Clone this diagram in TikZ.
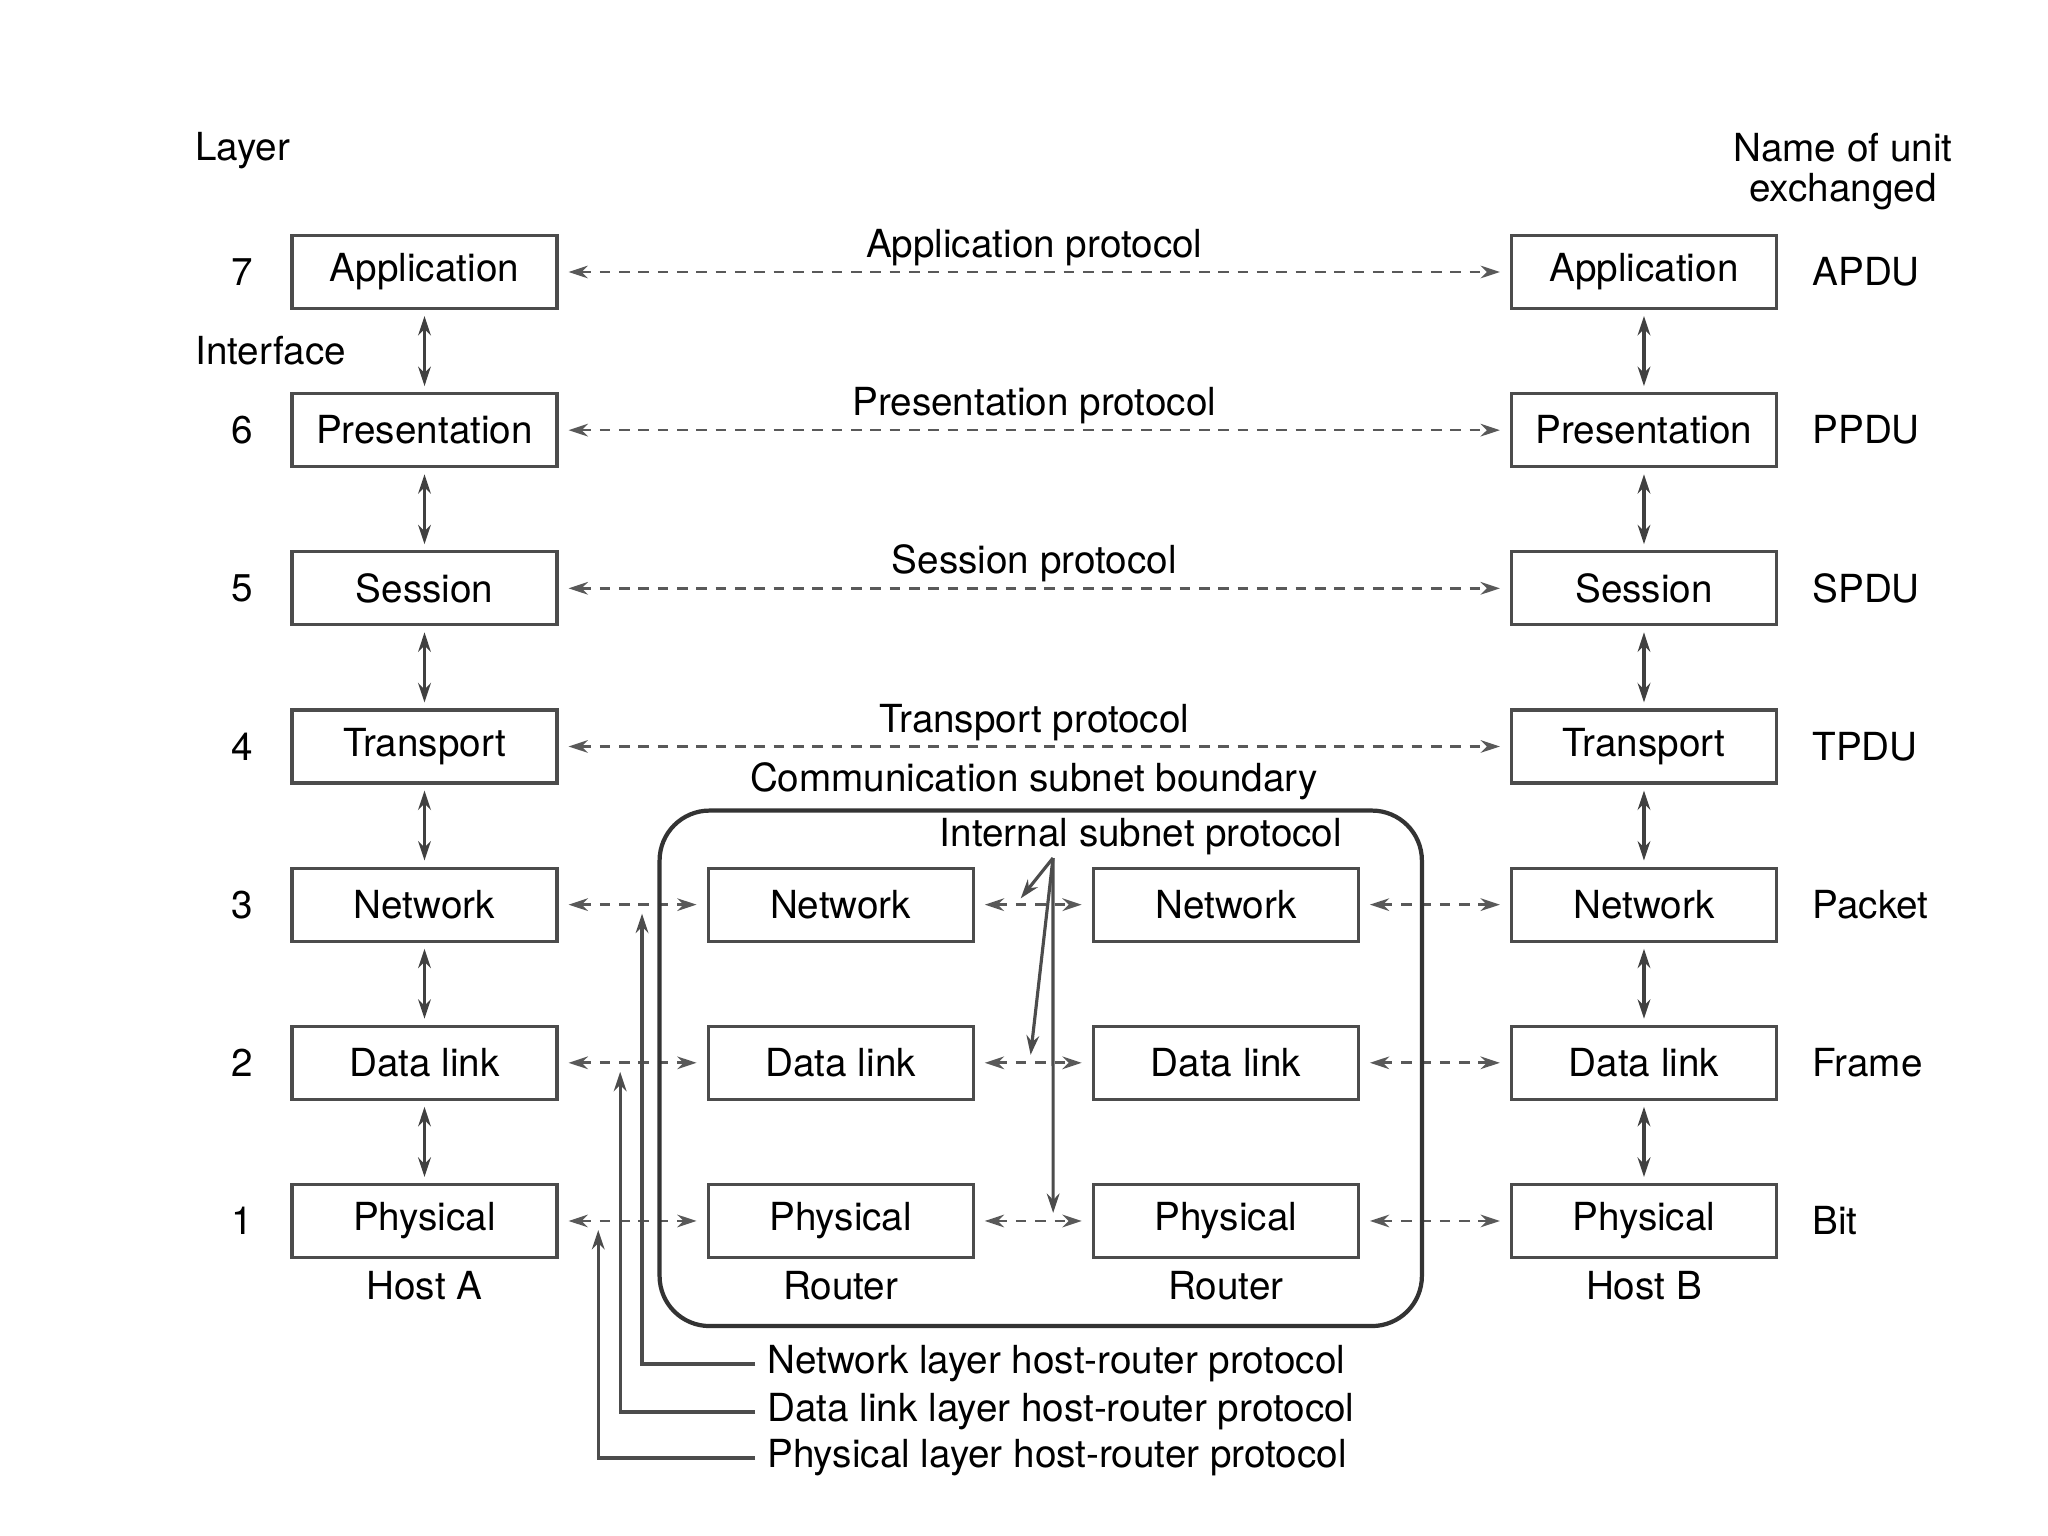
\documentclass[tikz,border=0pt]{standalone}
\usepackage{fontspec}
\setmainfont{TeX Gyre Heros}
\usepackage{tikz}
\usetikzlibrary{arrows.meta,calc,positioning}

\begin{document}
\begin{tikzpicture}[node distance=8.2mm and 14.8mm,>={Stealth[length=5.5pt,width=3.6pt]},
  every node/.style={font=\fontsize{11}{12}\selectfont},
  layerbox/.style={draw=black!70,line width=0.9pt,minimum width=26.5mm,minimum height=7.3mm,inner sep=0pt},
  proto/.style={<->,draw=black!65,line width=0.75pt,dash pattern=on 3pt off 2.5pt,shorten <=1mm,shorten >=1mm},
  iface/.style={<->,draw=black!75,line width=0.9pt,shorten <=0.6mm,shorten >=0.6mm},
  pointer/.style={->,draw=black!70,line width=0.9pt}]
  \useasboundingbox (0,0) rectangle (20.48,-15.36);
  % host A
  \node (a7) [layerbox] at (4.245,-2.72) {Application};
  \node (a6) [layerbox,below=of a7] {Presentation};
  \node (a5) [layerbox,below=of a6] {Session};
  \node (a4) [layerbox,below=of a5] {Transport};
  \node (a3) [layerbox,below=of a4] {Network};
  \node (a2) [layerbox,below=of a3] {Data link};
  \node (a1) [layerbox,below=of a2] {Physical};
  % routers
  \node (r3) [layerbox,right=of a3] {Network};
  \node (r2) [layerbox,below=of r3] {Data link};
  \node (r1) [layerbox,below=of r2] {Physical};
  \node (s3) [layerbox,right=11.7mm of r3] {Network};
  \node (s2) [layerbox,below=of s3] {Data link};
  \node (s1) [layerbox,below=of s2] {Physical};
  % host B
  \node (b3) [layerbox,right=15mm of s3] {Network};
  \node (b4) [layerbox,above=of b3] {Transport};
  \node (b5) [layerbox,above=of b4] {Session};
  \node (b6) [layerbox,above=of b5] {Presentation};
  \node (b7) [layerbox,above=of b6] {Application};
  \node (b2) [layerbox,below=of b3] {Data link};
  \node (b1) [layerbox,below=of b2] {Physical};
  % layer numbers and unit names
  \node (l7) [left=2.5mm of a7] {7};
  \node (l6) [left=2.5mm of a6] {6};
  \node (l5) [left=2.5mm of a5] {5};
  \node (l4) [left=2.5mm of a4] {4};
  \node (l3) [left=2.5mm of a3] {3};
  \node (l2) [left=2.5mm of a2] {2};
  \node (l1) [left=2.5mm of a1] {1};
  \node (u7) [right=2.2mm of b7] {APDU};
  \node (u6) [right=2.2mm of b6] {PPDU};
  \node (u5) [right=2.2mm of b5] {SPDU};
  \node (u4) [right=2.2mm of b4] {TPDU};
  \node (u3) [right=2.2mm of b3] {Packet};
  \node (u2) [right=2.2mm of b2] {Frame};
  \node (u1) [right=2.2mm of b1] {Bit};
  \node (layer) [anchor=west] at (1.83,-1.51) {Layer};
  \node (iface) [anchor=west] at (1.83,-3.51) {Interface};
  \node (unit) [align=center,font=\fontsize{11}{11.6}\selectfont] at (18.43,-1.715) {Name of unit\\exchanged};
  \node (hosta) [below=0pt of a1] {Host A};
  \node (rta) [below=0pt of r1] {Router};
  \node (rtb) [below=0pt of s1] {Router};
  \node (hostb) [below=0pt of b1] {Host B};
  % interfaces
  \draw[iface] (a7) -- (a6); \draw[iface] (a6) -- (a5); \draw[iface] (a5) -- (a4);
  \draw[iface] (a4) -- (a3); \draw[iface] (a3) -- (a2); \draw[iface] (a2) -- (a1);
  \draw[iface] (b7) -- (b6); \draw[iface] (b6) -- (b5); \draw[iface] (b5) -- (b4);
  \draw[iface] (b4) -- (b3); \draw[iface] (b3) -- (b2); \draw[iface] (b2) -- (b1);
  % peer protocols
  \draw[proto] (a7) -- node (p7) [above=-2pt] {Application protocol} (b7);
  \draw[proto] (a6) -- node (p6) [above=-2pt] {Presentation protocol} (b6);
  \draw[proto] (a5) -- node (p5) [above=-2pt] {Session protocol} (b5);
  \draw[proto] (a4) -- node (p4) [above=-2pt] {Transport protocol} (b4);
  \draw[proto] (a3) -- (r3); \draw[proto] (r3) -- (s3); \draw[proto] (s3) -- (b3);
  \draw[proto] (a2) -- (r2); \draw[proto] (r2) -- (s2); \draw[proto] (s2) -- (b2);
  \draw[proto] (a1) -- (r1); \draw[proto] (r1) -- (s1); \draw[proto] (s1) -- (b1);
  % subnet boundary
  \draw[black!80,line width=1.2pt,rounded corners=5mm] ($(r3.north west)+(-0.47,0.56)$) rectangle ($(s1.south east)+(0.62,-0.67)$);
  \node (bnd) at (10.34,-7.81) {Communication subnet boundary};
  \node (isp) at (11.41,-8.37) {Internal subnet protocol};
  \coordinate (apex) at (10.53,-8.58);
  \coordinate (t3) at ($(r3.east)!0.35!(s3.west)$);
  \coordinate (t2) at ($(r2.east)!0.47!(s2.west)$);
  \coordinate (t1) at ($(r1.east)!0.67!(s1.west)$);
  \draw[pointer,shorten >=0.8mm] (apex) -- (t3);
  \draw[pointer,shorten >=0.8mm] (apex) -- (t2);
  \draw[pointer,shorten >=0.8mm] (apex) -- (t1);
  % host-router protocols
  \node (nlp) [anchor=west] at (7.55,-13.64) {Network layer host-router protocol};
  \node (dlp) [anchor=west] at (7.55,-14.12) {Data link layer host-router protocol};
  \node (plp) [anchor=west] at (7.55,-14.58) {Physical layer host-router protocol};
  \coordinate (h3) at ($(a3.east)!0.564!(r3.west)$);
  \coordinate (h2) at ($(a2.east)!0.416!(r2.west)$);
  \coordinate (h1) at ($(a1.east)!0.268!(r1.west)$);
  \draw[pointer,shorten >=0.9mm] (nlp.west) -| (h3);
  \draw[pointer,shorten >=0.9mm] (dlp.west) -| (h2);
  \draw[pointer,shorten >=0.9mm] (plp.west) -| (h1);
\end{tikzpicture}
\end{document}
